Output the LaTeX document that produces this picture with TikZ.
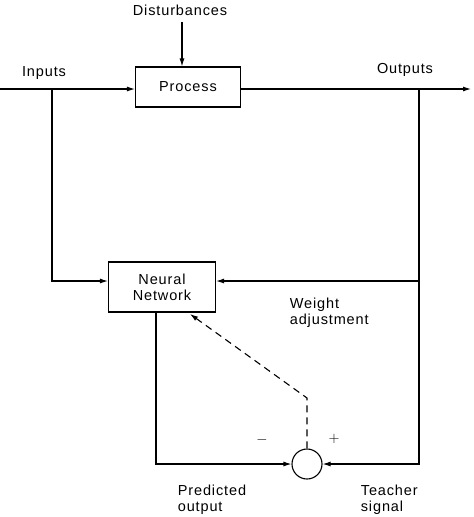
\documentclass[tikz,border=0pt]{standalone}
\usepackage{fontspec}
\setmainfont{Liberation Sans}
\newfontfamily\lblfont[LetterSpace=6]{Liberation Sans}
\usetikzlibrary{arrows.meta}
\tikzset{
  every path/.style = {line width=1.1pt},
  blk/.style = {draw, minimum width=105pt, minimum height=40pt, align=center,
                font=\lblfont\fontsize{14.5}{16}\selectfont},
  lbl/.style = {align=left, font=\lblfont\fontsize{14.5}{16}\selectfont},
  arr/.style = {-{Latex[length=8pt,width=5pt]}}
}
\begin{document}
\begin{tikzpicture}[x=1pt, y=-1pt]
\useasboundingbox (0,0) rectangle (474,517);

\node[blk] (proc) at (188,87) {Process};
\node[blk, minimum width=107pt, minimum height=50pt] (nn) at (162,287) {Neural\\Network};
\node[draw, circle, minimum size=30pt, inner sep=0pt] (sum) at (307,464) {};

\coordinate (in) at (0,89);
\coordinate (out) at (471,89);
\coordinate (dist) at (182,22);
\coordinate (tapin) at (52,89);
\coordinate (tapout) at (419,89);
\coordinate (kink) at (307,398);

\node[lbl] (inlbl) at (44,73) {Inputs};
\node[lbl] (outlbl) at (405,70) {Outputs};
\node[lbl] (distlbl) at (180,10) {Disturbances};
\node[lbl, anchor=north west] (wlbl) at (286,294) {Weight\\adjustment};
\node[lbl, anchor=north west] (plbl) at (174,481) {Predicted\\output};
\node[lbl, anchor=north west] (tlbl) at (357,481) {Teacher\\signal};
\node[font=\Large] (minus) at (262,440) {$-$};
\node[font=\Large] (plus) at (334,439) {$+$};

\draw[arr] (in) -- (proc.west |- in);
\draw[arr] (dist) -- (proc.north -| dist);
\draw[arr] (proc.east |- out) -- (out);
\draw[arr] (tapin) |- (nn.west |- 0,281);
\draw[arr] (tapout) |- (nn.east |- 0,281);
\draw[arr] (tapout) |- (sum.east);
\draw[arr] (nn.south -| 156,0) |- (sum.west);
\draw[arr, dash pattern=on 7pt off 5pt] (sum.north) -- (kink) -- (190,314);

\end{tikzpicture}
\end{document}
